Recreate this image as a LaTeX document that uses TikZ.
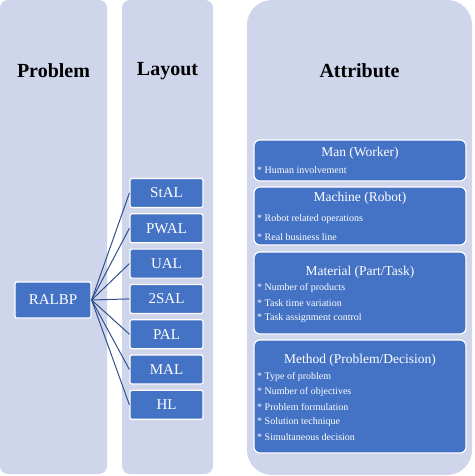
\documentclass[tikz,border=0pt]{standalone}
\usepackage{fontspec}
\setmainfont{LiberationSerif}[Extension=.ttf, UprightFont=*-Regular, BoldFont=*-Bold,
    ItalicFont=*-Italic, BoldItalicFont=*-BoldItalic]
\definecolor{colfill}{RGB}{207,213,234}
\definecolor{boxblue}{RGB}{68,114,196}
\definecolor{linkblue}{RGB}{47,82,143}

\tikzstyle{column} = [fill=colfill, rectangle, rounded corners=8pt, inner sep=0pt]
\tikzstyle{header} = [font=\fontsize{20}{24}\selectfont\bfseries]
\tikzstyle{layout} = [draw=white, line width=1.2pt, fill=boxblue, rectangle,
    rounded corners=2pt, minimum width=73pt, minimum height=29pt,
    text=white, font=\fontsize{15}{18}\selectfont]
\tikzstyle{attr} = [draw=white, line width=1.2pt, fill=boxblue, rectangle,
    rounded corners=6pt, minimum width=212pt, inner sep=0pt]
\tikzstyle{title} = [text=white, font=\fontsize{13.5}{16}\selectfont]
\tikzstyle{item} = [text=white, font=\fontsize{10}{12}\selectfont, anchor=west, inner sep=0pt]
\tikzstyle{link} = [draw=linkblue, line width=1pt]

\begin{document}
\begin{tikzpicture}[x=1pt, y=-1pt]
    \useasboundingbox (0,0) rectangle (474,476);

    % columns
    \node [column, minimum width=107pt, minimum height=474pt] (probcol) at (53.5,237) {};
    \node [column, minimum width=91pt, minimum height=474pt] (laycol) at (167.5,237) {};
    \node [column, rounded corners=25pt, minimum width=225pt, minimum height=475pt] (attrcol) at (359.5,237.5) {};

    \node [header] (probhead) at (53.5,71) {Problem};
    \node [header] (layhead) at (167.5,71) {Layout};
    \node [header] (attrhead) at (359.5,71) {Attribute};

    % problem and layouts
    \node [layout, minimum width=76pt, minimum height=36pt] (ralbp) at (53,300) {RALBP};
    \node [layout] (stal) at (166.5,193) {StAL};
    \node [layout] (pwal) at (166.5,228.3) {PWAL};
    \node [layout] (ual) at (166.5,263.6) {UAL};
    \node [layout] (tsal) at (166.5,298.9) {2SAL};
    \node [layout] (pal) at (166.5,334.2) {PAL};
    \node [layout] (mal) at (166.5,369.5) {MAL};
    \node [layout] (hl) at (166.5,404.8) {HL};

    \draw [link] (ralbp.east) -- (stal.west);
    \draw [link] (ralbp.east) -- (pwal.west);
    \draw [link] (ralbp.east) -- (ual.west);
    \draw [link] (ralbp.east) -- (tsal.west);
    \draw [link] (ralbp.east) -- (pal.west);
    \draw [link] (ralbp.east) -- (mal.west);
    \draw [link] (ralbp.east) -- (hl.west);

    % attributes
    \node [attr, minimum height=41pt] (man) at (360,160.5) {};
    \node [title] (mantitle) at (360,153) {Man (Worker)};
    \node [item] (man1) at (257,170) {* Human involvement};

    \node [attr, minimum height=58pt] (machine) at (360,216) {};
    \node [title] (machtitle) at (360,198) {Machine (Robot)};
    \node [item] (mach1) at (257,219) {* Robot related operations};
    \node [item] (mach2) at (257,237) {* Real business line};

    \node [attr, minimum height=82pt] (material) at (360,293) {};
    \node [title] (mattitle) at (360,272) {Material (Part/Task)};
    \node [item] (mat1) at (257,288) {* Number of products};
    \node [item] (mat2) at (257,303) {* Task time variation};
    \node [item] (mat3) at (257,318) {* Task assignment control};

    \node [attr, minimum height=113pt] (method) at (360,396.5) {};
    \node [title] (methtitle) at (360,360) {Method (Problem/Decision)};
    \node [item] (meth1) at (257,377) {* Type of problem};
    \node [item] (meth2) at (257,392) {* Number of objectives};
    \node [item] (meth3) at (257,407) {* Problem formulation};
    \node [item] (meth4) at (257,422) {* Solution technique};
    \node [item] (meth5) at (257,437) {* Simultaneous decision};
\end{tikzpicture}
\end{document}
